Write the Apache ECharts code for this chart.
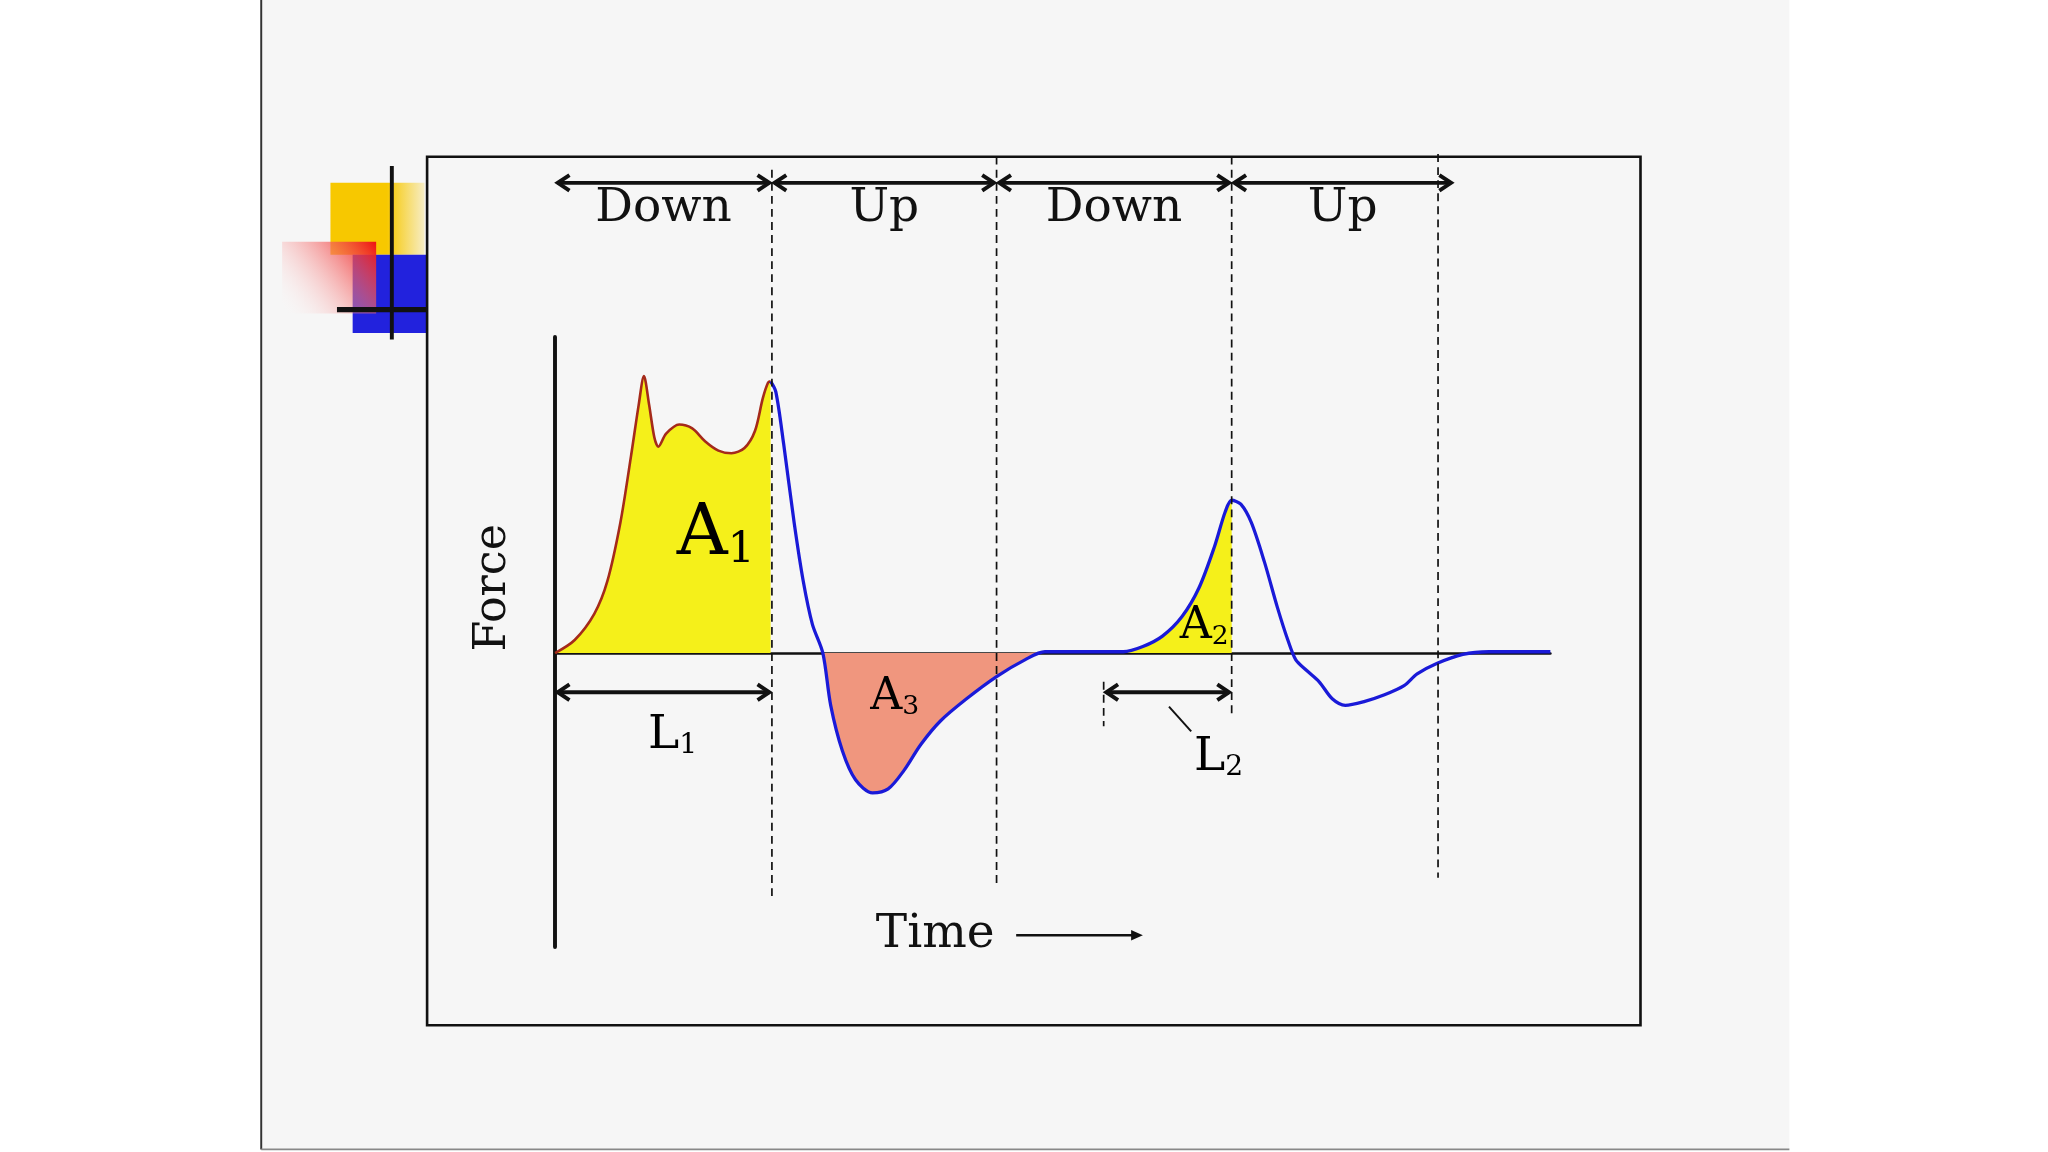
<!DOCTYPE html>
<html><head><meta charset="utf-8">
<script src="https://cdn.jsdelivr.net/npm/echarts@6/dist/echarts.min.js"></script>
<style>html,body{margin:0;padding:0;background:#fff}#c{width:2048px;height:1152px}</style>
</head><body><div id="c"></div>
<script>
// curve: [time, force] (time in px-like units, force up positive)
const downCurve = [[425,0],[440,10],[455,30],[465,55],[475,100],[483,150],[489,190],[493,212],[497,190],[501,165],[504,158],[510,168],[520,175],[530,172],[540,162],[550,155],[560,153],[570,157],[578,170],[584,195],[588,207],[590,208]];
const restCurve = [[590,208],[594,200],[600,160],[608,100],[615,55],[622,22],[630,0],[636,-40],[645,-75],[655,-97],[668,-107],[680,-104],[692,-90],[705,-70],[720,-52],[740,-35],[763,-18],[785,-5],[800,1],[830,1],[860,1],[875,5],[890,13],[905,28],[918,50],[930,82],[938,108],[943,117],[950,114],[958,100],[968,70],[978,35],[986,10],[992,-5],[1000,-13],[1010,-22],[1020,-35],[1030,-40],[1045,-37],[1060,-32],[1075,-25],[1085,-16],[1100,-8],[1120,-1],[1140,1],[1187,1]];
const a3Curve = restCurve.filter(p=>p[0]>=630&&p[0]<=800);
const a2Curve = restCurve.filter(p=>p[0]>=860&&p[0]<=943);
const phaseLabels = ['Down','Up','Down','Up'];
const phaseBounds = [425,591,763,943,1113];

const S = 2048/1568;
const chart = echarts.init(document.getElementById('c'));
const serif = '"DejaVu Serif","Liberation Serif",serif';
const g = [];
function ln(x1,y1,x2,y2,w,dash,col){g.push({type:'line',shape:{x1:x1*S,y1:y1*S,x2:x2*S,y2:y2*S},style:{stroke:col||'#111',lineWidth:(w||2)*S,lineDash:dash||null},z:10});}
function head(x,y,dir){g.push({type:'polyline',shape:{points:[[(x-dir*9)*S,(y-6)*S],[x*S,y*S],[(x-dir*9)*S,(y+6)*S]]},style:{stroke:'#111',lineWidth:3*S,fill:null},z:10});}
function darrow(x1,x2,y){ln(x1+2,y,x2-2,y,3);head(x1+2,y,-1);head(x2-2,y,1);}
function txt(t,x,y,sz,rot){g.push({type:'text',x:x*S,y:y*S,rotation:rot||0,style:{text:t,font:(sz*S)+'px '+serif,fill:'#111',textAlign:'center',textVerticalAlign:'middle'},z:11});}
function sub(t,s,x,y,sz){g.push({type:'text',x:x*S,y:y*S,style:{rich:{a:{fontSize:sz*S,fontFamily:serif,color:'#111'},b:{fontSize:sz*0.6*S,fontFamily:serif,color:'#111',padding:[sz*0.45*S,0,0,0]}},text:'{a|'+t+'}{b|'+s+'}',textAlign:'center',textVerticalAlign:'middle'},z:11});}
// slide
g.push({type:'rect',shape:{x:200*S,y:0,width:1170*S,height:880*S},style:{fill:'#f6f6f6'},z:0});
ln(200,0,200,880,1.5,null,'#333');ln(200,880,1370,880,1.5,null,'#888');
g.push({type:'rect',shape:{x:327*S,y:120*S,width:929*S,height:665*S},style:{fill:'none',stroke:'#111',lineWidth:2*S},z:9});
// deco
g.push({type:'rect',shape:{x:253*S,y:140*S,width:72*S,height:55*S},style:{fill:new echarts.graphic.LinearGradient(0,0,1,0,[{offset:0,color:'#f7c800'},{offset:0.6,color:'#f7c800'},{offset:1,color:'rgba(247,200,0,0.2)'}])},z:1});
g.push({type:'rect',shape:{x:270*S,y:195*S,width:57*S,height:60*S},style:{fill:'#2222dd'},z:1});
g.push({type:'rect',shape:{x:216*S,y:185*S,width:72*S,height:55*S},style:{fill:new echarts.graphic.LinearGradient(1,0,0,1,[{offset:0,color:'#ee1111'},{offset:1,color:'rgba(255,255,255,0)'}])},z:2});
ln(300,127,300,260,3);ln(258,237,327,237,4);
// dashed
[[591,130,688],[763,120,678],[943,120,550],[1101,118,672],[845,522,556]].forEach(d=>ln(d[0],d[1],d[0],d[2],1.3,[6*S,4*S]));
for(let i=0;i<4;i++){darrow(phaseBounds[i],phaseBounds[i+1],140);txt(phaseLabels[i],(phaseBounds[i]+phaseBounds[i+1])/2,160,36);}
darrow(425,591,530);sub('L','1',515,563,36);
darrow(845,943,530);sub('L','2',933,580,36);ln(895,541,912,560,1.5);
sub('A','1',548,410,54);sub('A','3',685,534,34);sub('A','2',922,480,34);
txt('Force',378,450,34,Math.PI/2);txt('Time',716,716,36);
ln(778,716,868,716,2);g.push({type:'polygon',shape:{points:[[866*S,712*S],[875*S,716*S],[866*S,720*S]]},style:{fill:'#111'},z:10});

chart.setOption({
  animation:false,
  grid:{left:425*S,width:762*S,top:258*S,height:467*S},
  xAxis:{type:'value',min:425,max:1187,axisLine:{onZero:true,lineStyle:{color:'#111',width:2*S}},axisTick:{show:false},axisLabel:{show:false},splitLine:{show:false}},
  yAxis:{type:'value',min:-225,max:242,axisLine:{show:true,lineStyle:{color:'#111',width:3*S}},axisTick:{show:false},axisLabel:{show:false},splitLine:{show:false}},
  graphic:g,
  series:[
    {type:'line',data:downCurve,smooth:0.3,symbol:'none',z:5,lineStyle:{color:'#a52a1a',width:2*S},areaStyle:{color:'#f5f01a',opacity:1}},
    {type:'line',data:a3Curve,smooth:0.3,symbol:'none',z:4,lineStyle:{width:0},areaStyle:{color:'#f0967e',opacity:1}},
    {type:'line',data:a2Curve,smooth:0.3,symbol:'none',z:4,lineStyle:{width:0},areaStyle:{color:'#f5f01a',opacity:1}},
    {type:'line',data:restCurve,smooth:0.3,symbol:'none',z:6,lineStyle:{color:'#1a1ad8',width:2.5*S}}
  ]
});
</script></body></html>
